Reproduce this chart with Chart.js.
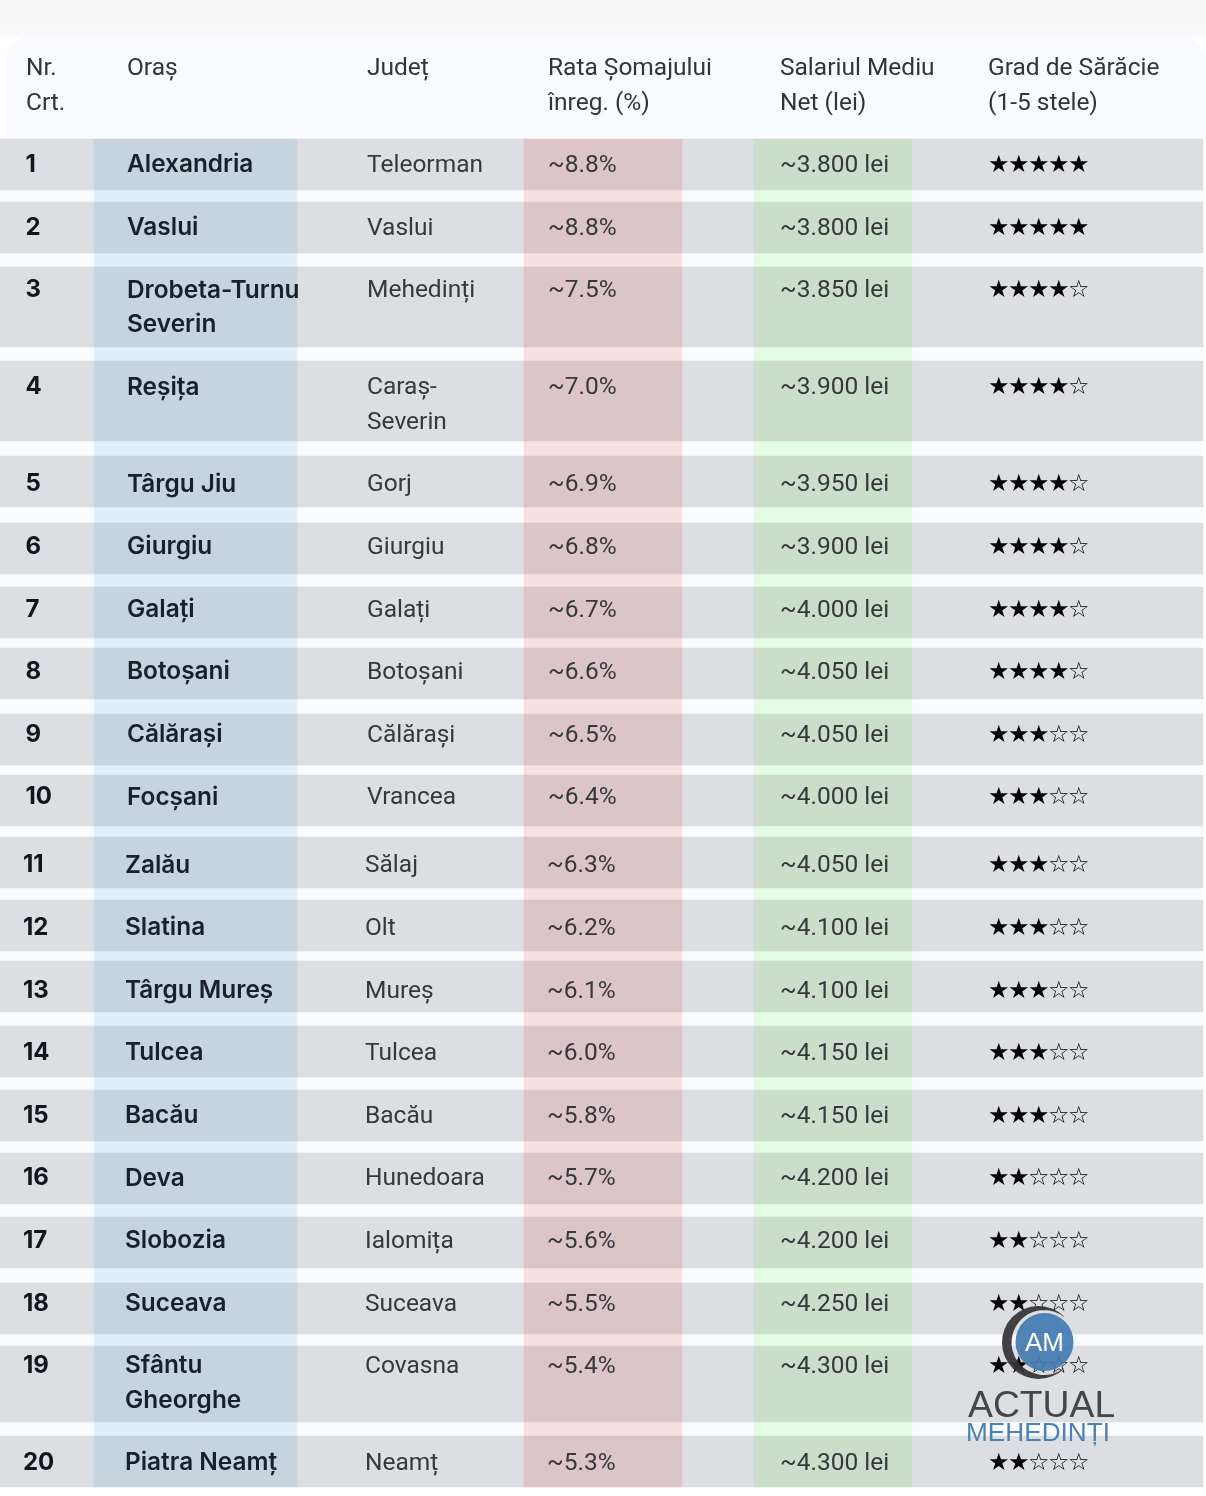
<!DOCTYPE html>
<html lang="ro"><head><meta charset="utf-8"><title>Orașe</title>
<style>html,body{margin:0;padding:0;background:#fff}
#wrap{width:1206px;height:1496px;background:linear-gradient(to bottom,#f7f7f7 0,#fafafb 36px,#fff 37px)}
canvas{display:block}</style>
<script src="https://cdn.jsdelivr.net/npm/chart.js@4/dist/chart.umd.min.js"></script>
</head><body><div id="wrap"><canvas id="c" width="1206" height="1496"></canvas></div>
<script>
// ---- data ----
const headers = [["Nr.","Crt."],["Oraș"],["Județ"],["Rata Șomajului","înreg. (%)"],["Salariul Mediu","Net (lei)"],["Grad de Sărăcie","(1-5 stele)"]];
const cities = ["Alexandria","Vaslui",["Drobeta-Turnu","Severin"],"Reșița","Târgu Jiu","Giurgiu","Galați","Botoșani","Călărași","Focșani","Zalău","Slatina","Târgu Mureș","Tulcea","Bacău","Deva","Slobozia","Suceava",["Sfântu","Gheorghe"],"Piatra Neamț"];
const counties = ["Teleorman","Vaslui","Mehedinți",["Caraș-","Severin"],"Gorj","Giurgiu","Galați","Botoșani","Călărași","Vrancea","Sălaj","Olt","Mureș","Tulcea","Bacău","Hunedoara","Ialomița","Suceava","Covasna","Neamț"];
const unemployment = [8.8,8.8,7.5,7.0,6.9,6.8,6.7,6.6,6.5,6.4,6.3,6.2,6.1,6.0,5.8,5.7,5.6,5.5,5.4,5.3];
const salaries = [3800,3800,3850,3900,3950,3900,4000,4050,4050,4000,4050,4100,4100,4150,4150,4200,4200,4250,4300,4300];
const povertyStars = [5,5,4,4,4,4,4,4,3,3,3,3,3,3,3,2,2,2,2,2];

// ---- layout (scale units equal page pixels) ----
const rowHeights = cities.map((c,i)=> i===18 ? 76 : (Array.isArray(c)||Array.isArray(counties[i]) ? 80 : 51));
const rowGaps = [12,14,14,15,16,13,10,15,10,11,12,10,14,13,12,13,15,12,14];
const rowSpans = []; { let t=139; rowHeights.forEach((h,i)=>{rowSpans.push([t,t+h]); t+=h+(rowGaps[i]||0);}); }
const textRows = []; { let t=166; rowHeights.forEach((h,i)=>{textRows.push(t); t+=(h>51?97:62.6)+(i===9?5.4:0);}); }
const TOP=139, BOTTOM=1487;
const colX = [26,127,367,548,780,988];
const colShift = [-2.5,-2,-2,-1,0,0]; // rows 11+ sit slightly to the left
const stacked = {grouped:false,borderSkipped:false,borderWidth:0};
const bandDataset = (label,left,right,color,span,order,extra)=>Object.assign({type:'bar',label,backgroundColor:color,order,
  barThickness:right-left,data:[{x:(left+right)/2,y:span}]},stacked,extra||{});

const fmtSalary = v => "~"+String(v).replace(/(\d)(\d{3})$/,"$1.$2")+" lei";
const fmtRate = v => "~"+v.toFixed(1)+"%";

const tablePlugin = {
  id:'tableText',
  afterDatasetsDraw(chart){
    const {ctx,scales:{x,y}} = chart;
    const put=(s,col,py,font,color,shift,dx)=>{
      ctx.font=font;ctx.fillStyle=color;
      ctx.fillText(s,x.getPixelForValue(colX[col]+(dx||0)+(shift?colShift[col]:0)),y.getPixelForValue(py));
    };
    ctx.save();
    ctx.textBaseline='middle';ctx.textAlign='left';
    const REG='400 24.5px Roboto', BOLD='600 24.4px Inter', NUM='700 24px Inter';
    const REGC='#36383c', BOLDC='#18202c', HEADC='#323438';
    const LINE=34.5;
    headers.forEach((h,c)=>h.forEach((l,k)=>put(l,c,69+k*LINE,REG,HEADC)));
    textRows.forEach((py,i)=>{
      const s=i>=10;
      put(String(i+1),0,py-1,NUM,'#12161c',s,-0.5);
      [].concat(cities[i]).forEach((l,k)=>put(l,1,py-1+k*LINE,BOLD,BOLDC,s));
      [].concat(counties[i]).forEach((l,k)=>put(l,2,py+k*LINE,REG,REGC,s));
      put(fmtRate(unemployment[i]),3,py,REG,REGC,s);
      put(fmtSalary(salaries[i]),4,py,REG,REGC,s);
      for(let k=0;k<5;k++){
        ctx.font='24px "DejaVu Sans"';ctx.fillStyle='#000';
        ctx.fillText(k<povertyStars[i]?'★':'☆',x.getPixelForValue(988+k*20),y.getPixelForValue(py));
      }
    });
    // watermark logo
    const X=x.getPixelForValue.bind(x),Y=y.getPixelForValue.bind(y);
    ctx.fillStyle='rgba(50,50,54,0.92)';
    ctx.beginPath();
    ctx.arc(X(1038.5),Y(1342.5),36.5,-0.8,0.8,true);
    ctx.arc(X(1044),Y(1342.5),32.5,0.92,-0.92,false);
    ctx.closePath();ctx.fill();
    ctx.fillStyle='rgba(66,123,178,0.92)';
    ctx.beginPath();ctx.arc(X(1044.5),Y(1342),29,0,Math.PI*2);ctx.fill();
    ctx.textAlign='center';ctx.fillStyle='#fff';ctx.font='26px "Liberation Sans"';
    ctx.fillText('AM',X(1044.5),Y(1344));
    ctx.textAlign='left';ctx.textBaseline='alphabetic';
    ctx.fillStyle='#45464a';ctx.font='37.3px "Liberation Sans"';
    ctx.fillText('ACTUAL',X(968),Y(1417));
    ctx.fillStyle='#4a82b8';ctx.font='26.2px "Liberation Sans"';
    ctx.fillText('MEHEDINȚI',X(966),Y(1441));
    ctx.restore();
  }
};

new Chart(document.getElementById('c'),{
  type:'bar',
  data:{datasets:[
    Object.assign({label:'Rânduri',backgroundColor:'rgba(0,0,0,0.115)',order:1,barThickness:1203,
      data:rowSpans.map(s=>({x:601.5,y:s}))},stacked),
    bandDataset('Oraș',94,297,'#dff0fb',[TOP,BOTTOM],5),
    bandDataset('Rata Șomajului',524,682,'#f7dfe2',[TOP,BOTTOM],5),
    bandDataset('Salariul Mediu',754,912,'#e4fbe4',[TOP,BOTTOM],5),
    bandDataset('Corp',0,1203,'#fafbff',[TOP,BOTTOM],9),
    bandDataset('Antet',6,1206,'#fafbff',[36,TOP],9,{borderRadius:{topLeft:26,topRight:26,bottomLeft:0,bottomRight:0}})
  ]},
  options:{
    responsive:false,animation:false,devicePixelRatio:1,
    layout:{padding:0},
    plugins:{legend:{display:false},tooltip:{enabled:false}},
    scales:{
      x:{type:'linear',min:0,max:1206,offset:false,display:false},
      y:{type:'linear',min:0,max:1496,reverse:true,display:false}
    }
  },
  plugins:[tablePlugin]
});
</script></body></html>
